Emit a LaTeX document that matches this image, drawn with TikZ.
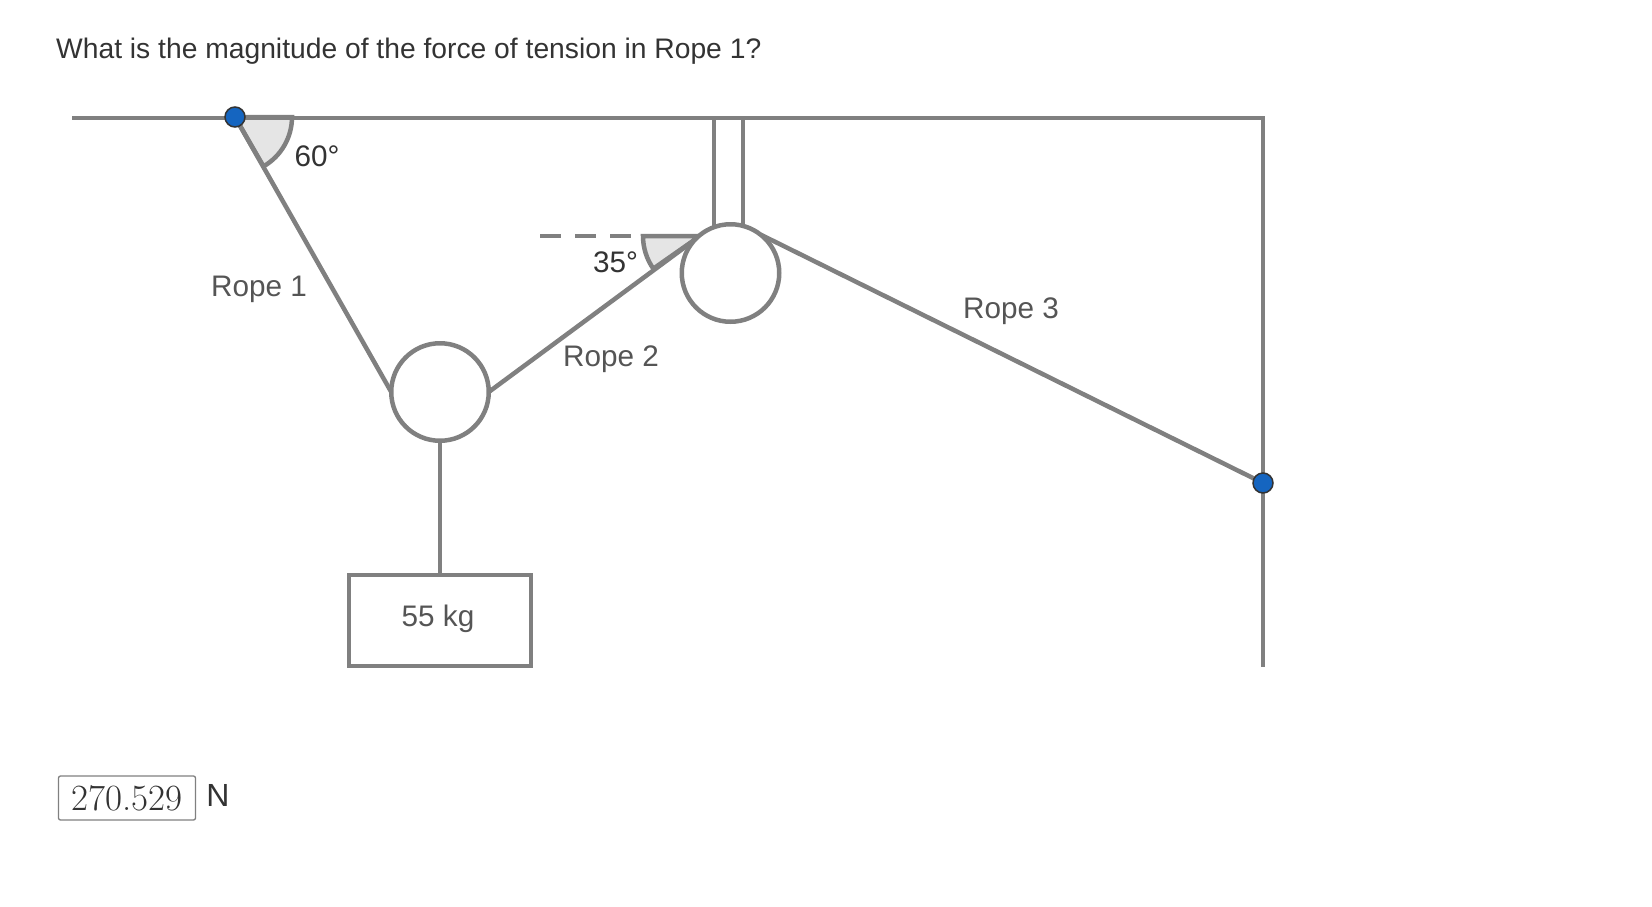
\documentclass[tikz,border=0pt]{standalone}
\usepackage{fontspec}
\usetikzlibrary{backgrounds}
\setmainfont{Liberation Sans}
\definecolor{rope}{RGB}{128,128,128}
\definecolor{ink}{RGB}{51,51,51}
\definecolor{lab}{RGB}{85,85,85}
\definecolor{dot}{RGB}{21,101,192}
\definecolor{fillang}{RGB}{229,229,229}
\newfontfamily\lmfont{Latin Modern Roman}
\tikzset{
  ropeline/.style={draw=rope,line width=4.5pt},
  pulley/.style={circle,draw=rope,line width=4.5pt,fill=white,minimum size=97.5pt,inner sep=0pt,outer sep=0pt},
  weight/.style={draw=rope,line width=4.5pt,minimum width=182pt,minimum height=91pt,inner sep=0pt,outer sep=0pt},
  pin/.style={circle,draw=black!80,line width=1.5pt,fill=dot,minimum size=20pt,inner sep=0pt},
  anglefill/.style={fill=fillang,draw=rope,line width=4.5pt},
  lbl/.style={text=lab,font=\fontsize{29.7}{32}\selectfont,inner sep=0pt},
  anglelbl/.style={text=ink,font=\fontsize{29.7}{32}\selectfont,inner sep=0pt},
  question/.style={text=ink,font=\fontsize{28.25}{32}\selectfont,inner sep=0pt,anchor=west}
}
\begin{document}
\begin{tikzpicture}[x=1pt,y=-1pt]
\useasboundingbox (0,0) rectangle (1652,906);
\node[question] (q) at (56,51) {What is the magnitude of the force of tension in Rope 1?};
\coordinate (wallL) at (72,118);
\coordinate (corner) at (1263,118);
\coordinate (wallEnd) at (1263,667);
\coordinate (dashEnd) at (540,236);
\coordinate (dashStart) at (632,236);
\coordinate (vtx) at (700,236);
\node[pulley] (p1) at (440,392) {};
\node[pulley] (p2) at (730.5,273) {};
\node[weight] (block) at (440,620.5) {};
\node[pin] (a) at (235,117) {};
\node[pin] (b) at (1263,483) {};
\begin{scope}[on background layer]
\fill[white] (0,0) rectangle (1652,906);
\draw[anglefill] (a.center) -- ++(57,0) arc[start angle=0,end angle=-60,radius=57pt] -- cycle;
\draw[anglefill] (vtx) -- ++(-57,0) arc[start angle=180,end angle=215,radius=57pt] -- cycle;
\draw[ropeline] (wallL) -- (corner) -- (wallEnd);
\draw[ropeline,dash pattern=on 21pt off 14pt] (dashEnd) -- (dashStart);
\draw[ropeline] (a.center) -- (p1.west);
\draw[ropeline] (p1.east) -- (vtx);
\draw[ropeline] (p1.south) -- (block.north);
\draw[ropeline] (p2.110) -- (p2.110 |- corner);
\draw[ropeline] (p2.75) -- (p2.75 |- corner);
\draw[ropeline] (p2.52) -- (b.center);
\end{scope}
\node[lbl] (r1) at (259,289) {Rope 1};
\node[lbl] (r2) at (611,359) {Rope 2};
\node[lbl] (r3) at (1011,311) {Rope 3};
\node[lbl] (m) at (438,619) {55 kg};
\node[anglelbl] (a60) at (317,156) {60°};
\node[anglelbl] (a35) at (615.5,262) {35°};
\node[draw=rope,line width=1.3pt,rounded corners=2pt,minimum width=137pt,minimum height=44pt,inner sep=0pt,
      text=ink,font=\lmfont\fontsize{37}{40}\selectfont] (ans) at (127,798) {270.529};
\node[text=ink,font=\fontsize{32}{36}\selectfont,inner sep=0pt] (unit) at (218,795) {N};
\end{tikzpicture}
\end{document}
